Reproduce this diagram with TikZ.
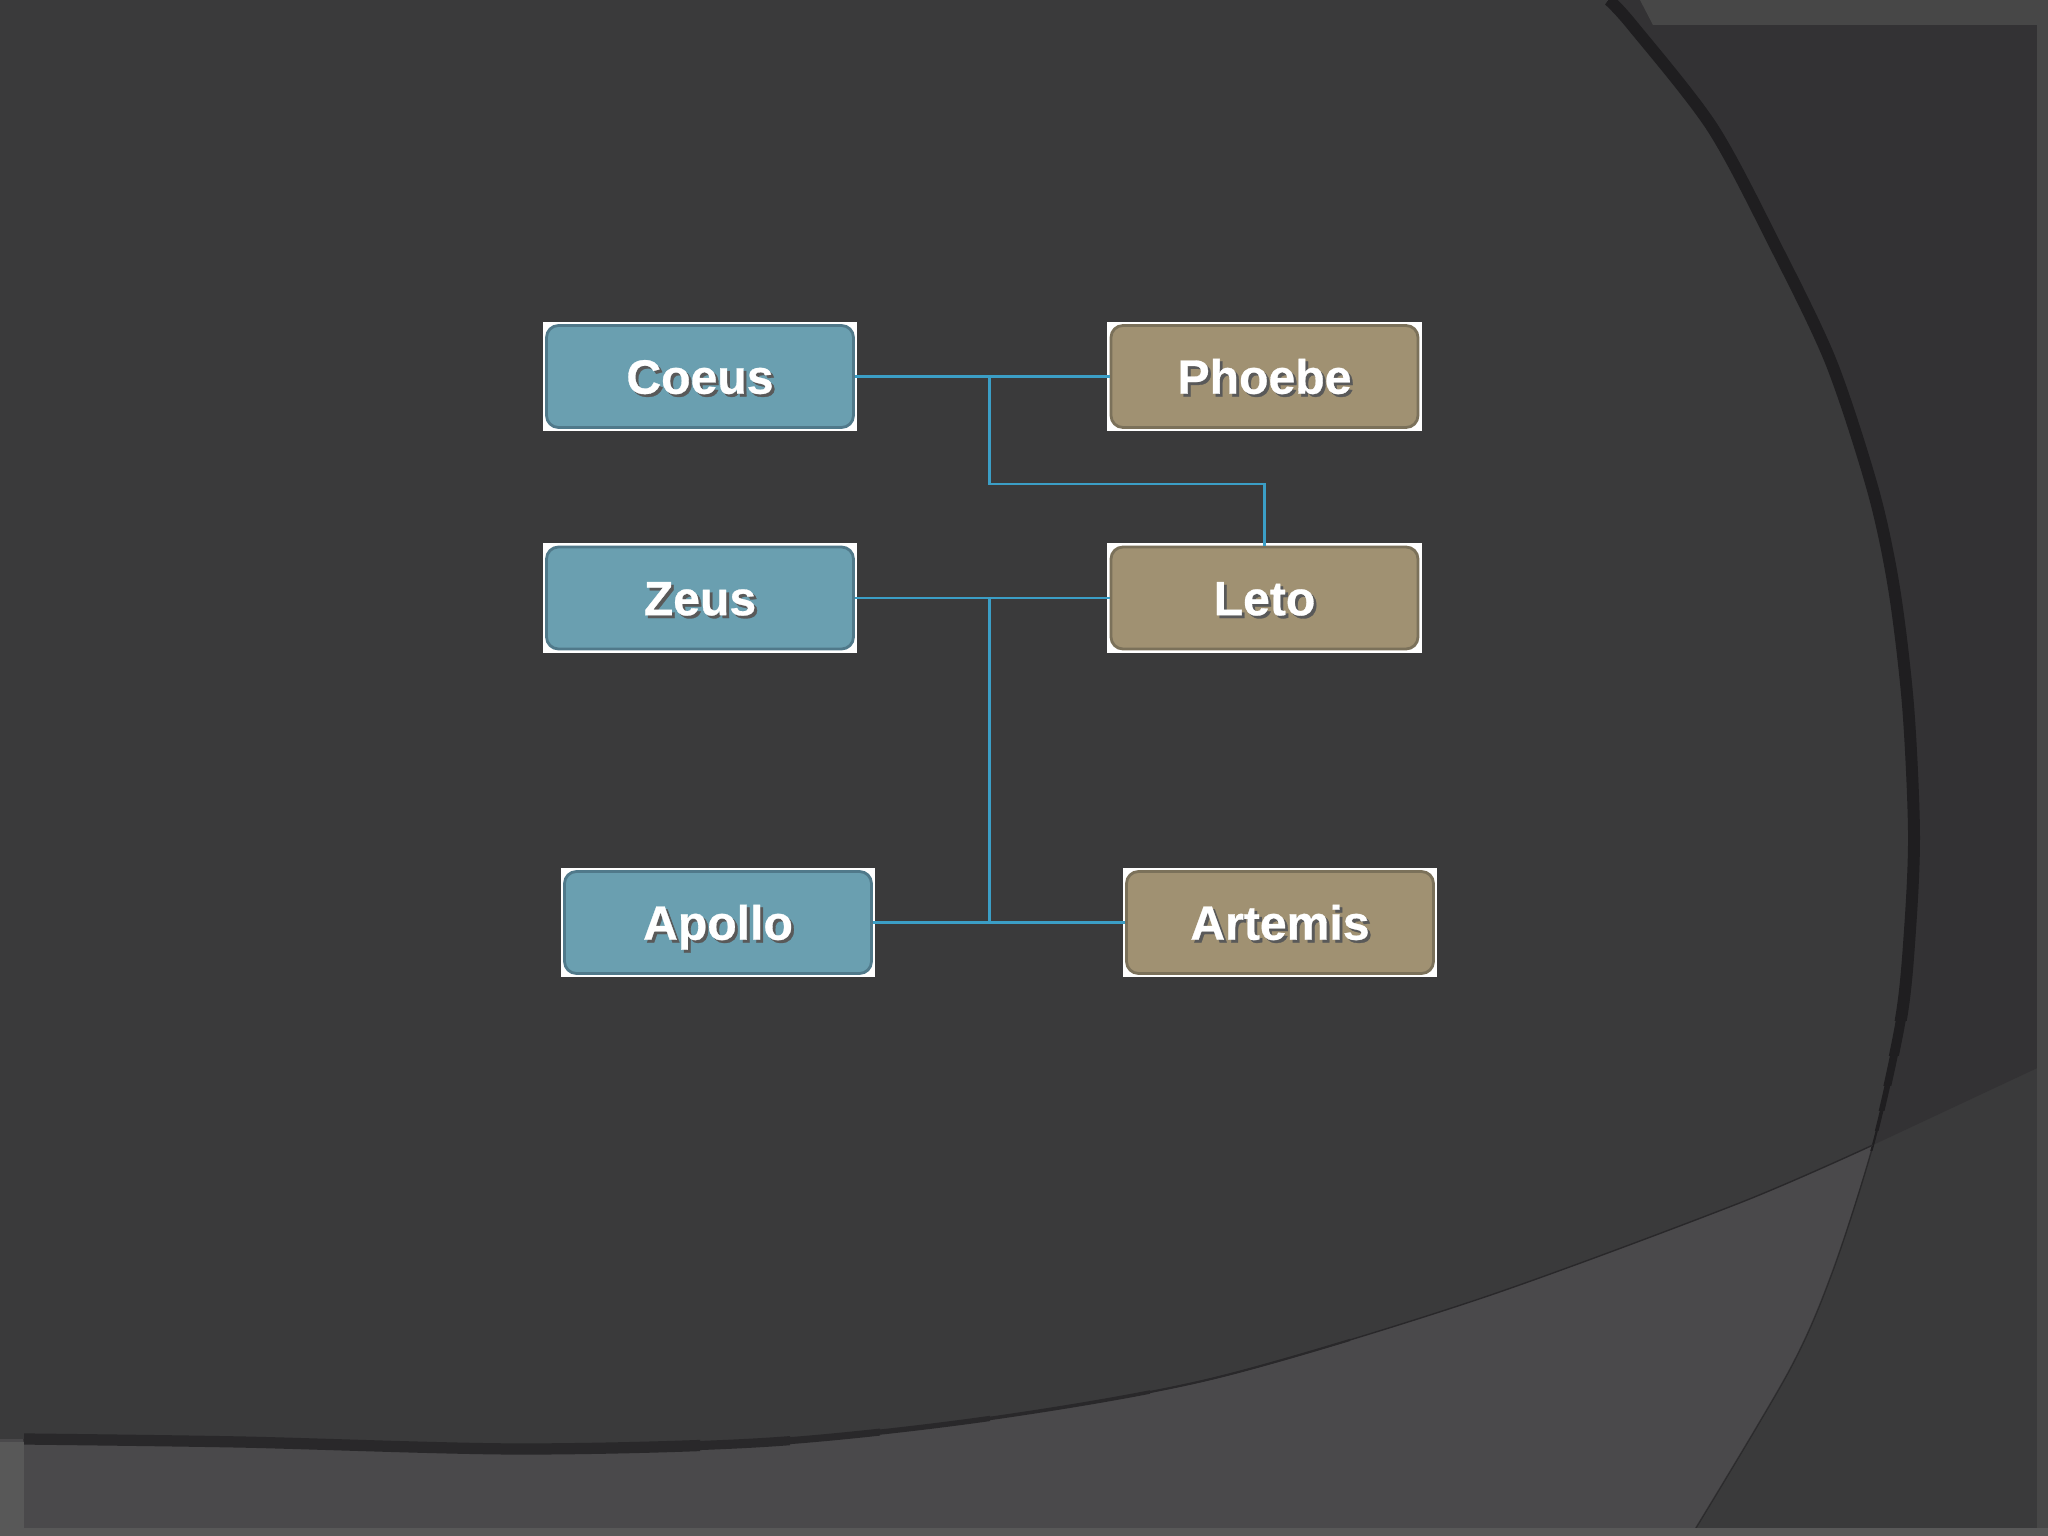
\documentclass[tikz,border=0pt]{standalone}
\usepackage{fontspec}
\usepackage{xcolor}
\usetikzlibrary{backgrounds,calc}
\newfontfamily\boxfont{Liberation Sans}[BoldFeatures={FakeBold=0.6}]
\definecolor{slidebg}{HTML}{3A3A3B}
\definecolor{darkpanel}{HTML}{333234}
\definecolor{lightband}{HTML}{4A494B}
\definecolor{framegray}{HTML}{474747}
\definecolor{frameedge}{HTML}{585858}
\definecolor{arcblack}{HTML}{1F1E20}
\definecolor{lowblack}{HTML}{29282A}
\definecolor{tealfill}{HTML}{6A9FB0}
\definecolor{tealline}{HTML}{50798A}
\definecolor{khakifill}{HTML}{A09172}
\definecolor{khakiline}{HTML}{7B715A}
\definecolor{linkblue}{HTML}{3B9EC6}
\newcommand{\shadowed}[1]{\makebox[0pt][l]{\kern0.8pt\raisebox{-0.8pt}{\textcolor{black!65}{#1}}}#1}
\newcommand{\bigarc}{plot[smooth] coordinates {(16.09,0) (16.32,-0.25) (17.12,-1.27) (17.75,-2.45) (18.31,-3.62) (18.73,-4.90) (18.94,-5.88) (19.08,-7.05) (19.14,-8.33) (19.10,-9.30) (19.01,-10.19) (18.73,-11.45) (18.32,-12.73) (17.89,-13.71) (16.91,-15.36)}}
\newcommand{\lowcurve}{plot[smooth] coordinates {(0.24,-14.39) (2.40,-14.42) (5.22,-14.49) (7.71,-14.42) (9.93,-14.18) (12.15,-13.78) (14.76,-13.00) (17.37,-12.04) (18.73,-11.45)}}
\tikzset{
  person/.style={draw, rounded corners=0.12cm, line width=0.8pt,
    minimum width=3.07cm, minimum height=1.02cm, text=white,
    font=\boxfont\bfseries\fontsize{13.7pt}{16pt}\selectfont,
    text height=9.8pt, text depth=0pt},
  father/.style={person, fill=tealfill, draw=tealline},
  mother/.style={person, fill=khakifill, draw=khakiline},
  link/.style={draw=linkblue, line width=0.6pt}
}
\begin{document}
\begin{tikzpicture}
  \useasboundingbox (0,0) rectangle (20.48,-15.36);
  \begin{scope}[on background layer]
    \clip (0,0) rectangle (20.48,-15.36);
    \fill[slidebg] (0,0) rectangle (20.48,-15.36);
    \fill[darkpanel] (16.09,0) -- plot[smooth] coordinates {(16.32,-0.25) (17.12,-1.27) (17.75,-2.45) (18.31,-3.62) (18.73,-4.90) (18.94,-5.88) (19.08,-7.05) (19.14,-8.33) (19.10,-9.30) (19.01,-10.19) (18.73,-11.45)} -- (20.48,-10.63) -- (20.48,0) -- cycle;
    \fill[lightband] (0.24,-14.39) -- plot[smooth] coordinates {(0.24,-14.39) (2.40,-14.42) (5.22,-14.49) (7.71,-14.42) (9.93,-14.18) (12.15,-13.78) (14.76,-13.00) (17.37,-12.04) (18.73,-11.45)} -- plot[smooth] coordinates {(18.73,-11.45) (18.32,-12.73) (17.89,-13.71) (16.91,-15.36)} -- (0,-15.36) -- (0,-14.39) -- cycle;
    \draw[arcblack, line width=0.4pt, opacity=0.6] \bigarc;
    \foreach \w/\y in {3.4/-10.2, 2.8/-10.55, 2.2/-10.85, 1.6/-11.1, 1.0/-11.3, 0.6/-11.5}{
      \begin{scope}
        \clip (14,1) rectangle (21,\y);
        \draw[arcblack, line width=\w pt] \bigarc;
      \end{scope}
    }
    \foreach \w/\x in {0.4/18.8, 0.6/13.5, 1.0/11.5, 1.5/9.9, 2.0/8.8, 2.6/7.9, 3.2/7.0}{
      \begin{scope}
        \clip (0,-16) rectangle (\x,-10);
        \draw[lowblack, line width=\w pt] \lowcurve;
      \end{scope}
    }
    \fill[framegray] (16.40,0) -- (16.53,-0.25) -- (20.37,-0.25) -- (20.37,-15.36) -- (20.48,-15.36) -- (20.48,0) -- cycle;
    \fill[frameedge] (0,-14.42) rectangle (0.24,-15.36);
    \fill[frameedge] (0,-15.28) rectangle (20.48,-15.36);
  \end{scope}

  \node[father] (coeus) at (7.00,-3.765) {\shadowed{Coeus}};
  \node[mother] (phoebe) at (12.645,-3.765) {\shadowed{Phoebe}};
  \node[father] (zeus) at (7.00,-5.98) {\shadowed{Zeus}};
  \node[mother] (leto) at (12.645,-5.98) {\shadowed{Leto}};
  \node[father] (apollo) at (7.18,-9.225) {\shadowed{Apollo}};
  \node[mother] (artemis) at (12.80,-9.225) {\shadowed{Artemis}};

  \begin{scope}[on background layer]
    \foreach \n in {coeus,phoebe,zeus,leto,apollo,artemis}
      \fill[white] ($(\n.north west)+(-0.025,0.025)$) rectangle ($(\n.south east)+(0.025,-0.025)$);
  \end{scope}

  \coordinate (top) at (9.895,-3.765);
  \coordinate (bend) at (9.895,-4.844);
  \coordinate (mid) at (9.895,-5.98);
  \draw[link] (coeus) -- (phoebe);
  \draw[link] (top) -- (bend) -| (leto.north);
  \draw[link] (zeus) -- (leto);
  \draw[link] (mid) -- (mid |- apollo);
  \draw[link] (apollo) -- (artemis);
\end{tikzpicture}
\end{document}
